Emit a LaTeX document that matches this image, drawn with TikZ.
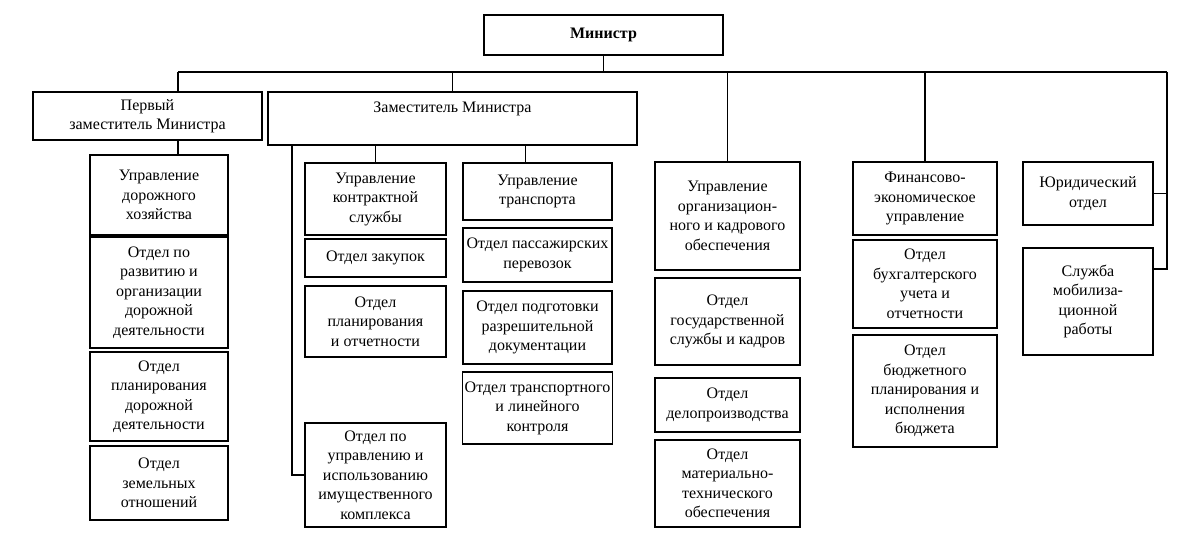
\documentclass[tikz,border=0pt]{standalone}
\usepackage{fontspec}
\setmainfont{Liberation Serif}
\usetikzlibrary{positioning, calc}

\begin{document}
\begin{tikzpicture}[x=1pt, y=-1pt, line width=1.5pt,
    box/.style={draw, rectangle, align=center, inner sep=2pt,
      font=\fontsize{16}{19.5}\selectfont}]

    \useasboundingbox (0,0) rectangle (1200,556);

    % Top level
    \node[box, minimum width=239pt, minimum height=40pt] (minister) at (603.5,35) {\textbf{Министр}};
    \node[box, minimum width=229pt, minimum height=48pt] (first) at (147.5,116) {Первый\\заместитель Министра};
    \node[box, minimum width=369pt, minimum height=53pt, text depth=22pt] (deputy) at (452.5,118.5) {Заместитель Министра};
    \node[box, minimum width=145pt, minimum height=108pt] (org) at (727.5,216) {Управление\\организацион-\\ного и кадрового\\обеспечения};
    \node[box, minimum width=144pt, minimum height=73pt] (finance) at (925,198.5) {Финансово-\\экономическое\\управление};
    \node[box, minimum width=130pt, minimum height=63pt] (legal) at (1088,193.5) {Юридический\\отдел};
    \node[box, minimum width=130pt, minimum height=107pt] (mobil) at (1088,301.5) {Служба\\мобилиза-\\ционной\\работы};

    % First deputy column
    \node[box, minimum width=138pt, minimum height=80pt] (road) at (159,195) {Управление\\дорожного\\хозяйства};
    \node[box, minimum width=138pt, minimum height=111pt] (develop) at (159,292.5) {Отдел по\\развитию и\\организации\\дорожной\\деятельности};
    \node[box, minimum width=138pt, minimum height=89pt] (roadplan) at (159,396.5) {Отдел\\планирования\\дорожной\\деятельности};
    \node[box, minimum width=138pt, minimum height=74pt] (land) at (159,483) {Отдел\\земельных\\отношений};

    % Contract column
    \node[box, minimum width=141pt, minimum height=72pt] (contract) at (375.5,199) {Управление\\контрактной\\службы};
    \node[box, minimum width=141pt, minimum height=38pt] (purchase) at (375.5,258) {Отдел закупок};
    \node[box, minimum width=141pt, minimum height=71pt] (report) at (375.5,321.5) {Отдел\\планирования\\и отчетности};
    \node[box, minimum width=141pt, minimum height=104pt] (property) at (375.5,475) {Отдел по\\управлению и\\использованию\\имущественного\\комплекса};

    % Transport column
    \node[box, minimum width=149pt, minimum height=57pt] (transport) at (537.5,191.5) {Управление\\транспорта};
    \node[box, minimum width=149pt, minimum height=54pt] (passenger) at (537.5,255) {Отдел пассажирских\\перевозок};
    \node[box, minimum width=149pt, minimum height=73pt] (permit) at (537.5,327.5) {Отдел подготовки\\разрешительной\\документации};
    \node[box, minimum width=149pt, minimum height=72pt] (control) at (537.5,408) {Отдел транспортного\\и линейного\\контроля};

    % Organisation column
    \node[box, minimum width=145pt, minimum height=87pt] (staff) at (727.5,321.5) {Отдел\\государственной\\службы и кадров};
    \node[box, minimum width=145pt, minimum height=54pt] (office) at (727.5,405) {Отдел\\делопроизводства};
    \node[box, minimum width=145pt, minimum height=87pt] (supply) at (727.5,483.5) {Отдел\\материально-\\технического\\обеспечения};

    % Finance column
    \node[box, minimum width=144pt, minimum height=88pt] (account) at (925,284) {Отдел\\бухгалтерского\\учета и\\отчетности};
    \node[box, minimum width=144pt, minimum height=112pt] (budget) at (925,391) {Отдел\\бюджетного\\планирования и\\исполнения\\бюджета};

    % Bus
    \coordinate (busL) at (178,72);
    \coordinate (busR) at (1167,72);
    \coordinate (depL) at (292,145);
    \coordinate (mobIn) at ($(mobil.north east)+(0,22)$);

    % Connections
    \draw (busL) -- (busR);
    \draw (minister) -- (minister |- busL);
    \draw (busL) -- (busL |- first.north);
    \draw (deputy.north) -- (deputy.north |- busL);
    \draw (org.north) -- (org.north |- busL);
    \draw (finance.north) -- (finance.north |- busL);
    \draw (busR) -- (busR |- mobIn) -- (mobIn);
    \draw (legal.east) -- (legal.east -| busR);
    \draw (busL |- first.south) -- (busL |- road.north);
    \draw (depL) |- (property.west);
    \draw (contract.north) -- (contract.north |- deputy.south);
    \draw ([xshift=-12pt]transport.north) -- ([xshift=-12pt]transport.north |- deputy.south);

\end{tikzpicture}
\end{document}
